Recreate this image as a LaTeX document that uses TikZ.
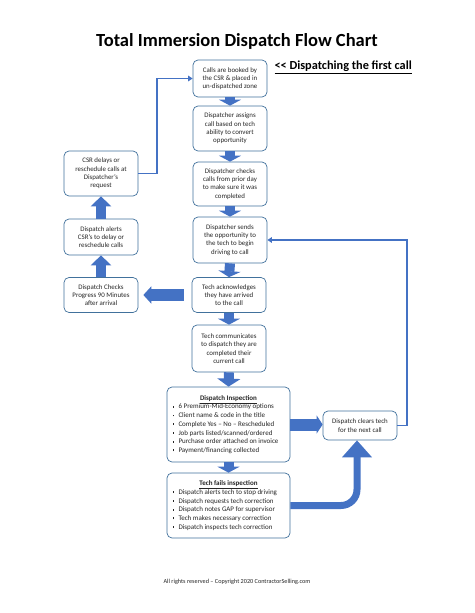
\documentclass[tikz,border=0pt]{standalone}
\usepackage{fontspec}
\setmainfont{Carlito}
\usetikzlibrary{arrows.meta,positioning}
\definecolor{boxblue}{RGB}{65,113,156}
\definecolor{arrowblue}{RGB}{68,114,196}
\definecolor{textgray}{RGB}{38,38,38}
\newcommand\sqbullet{\raisebox{0.35ex}{\rule{1.8pt}{1.8pt}}\hspace{4.2pt}}

\begin{document}
\begin{tikzpicture}[x=1pt, y=-1pt,
    box/.style={draw=boxblue, line width=0.7pt, rounded corners=5pt, fill=white, align=center, inner sep=0pt, minimum width=74pt, text=textgray, font=\fontsize{6.9}{8.3}\selectfont},
    listbox/.style={box, align=flush left, text width=112pt, minimum width=123pt, inner xsep=5.5pt, font=\fontsize{7}{8.7}\selectfont},
    downblock/.style={draw=arrowblue, line width=10pt, -{Triangle[width=22pt,length=6pt]}},
    upblock/.style={draw=arrowblue, line width=10pt, -{Triangle[width=20pt,length=10pt]}},
    sideblock/.style={draw=arrowblue, line width=12.5pt, -{Triangle[width=17pt,length=8pt]}},
    linkline/.style={draw=arrowblue, line width=1.8pt, -{Triangle[width=5.5pt,length=4.5pt]}},
    bigcurve/.style={draw=arrowblue, line width=7pt, rounded corners=16pt, -{Triangle[width=29pt,length=17pt]}}]
    \useasboundingbox (0,0) rectangle (474,613);
    \node [font=\fontsize{18.5}{20}\selectfont\bfseries] (title) at (237,41) {Total Immersion Dispatch Flow Chart};
    \node [font=\fontsize{12.3}{14}\selectfont\bfseries, anchor=west] (first) at (271,67) {\underline{{<}{<} Dispatching the first call}};
    \node [box, minimum height=37pt] (b1) at (230,78.5) {Calls are booked by\\the CSR \& placed in\\un-dispatched zone};
    \node [box, minimum height=45pt] (b2) at (230,128.5) {Dispatcher assigns\\call based on tech\\ability to convert\\opportunity};
    \node [box, minimum height=44pt] (b3) at (230,184) {Dispatcher checks\\calls from prior day\\to make sure it was\\completed};
    \node [box, minimum height=46pt] (b4) at (230,240) {Dispatcher sends\\the opportunity to\\the tech to begin\\driving to call};
    \node [box, minimum height=35pt] (b5) at (229,295) {Tech acknowledges\\they have arrived\\to the call};
    \node [box, minimum height=47pt] (b6) at (229,348.5) {Tech communicates\\to dispatch they are\\completed their\\current call};
    \node [listbox, minimum height=75pt] (b7) at (228.5,424.5) {\makebox[112pt]{\bfseries\underline{Dispatch Inspection}}\\
        \sqbullet 6 Premium-Mid-Economy options\\
        \sqbullet Client name \& code in the title\\
        \sqbullet Complete Yes -- No -- Rescheduled\\
        \sqbullet Job parts listed/scanned/ordered\\
        \sqbullet Purchase order attached on invoice\\
        \sqbullet Payment/financing collected};
    \node [box, minimum height=29pt] (b8) at (360,425.5) {Dispatch clears tech\\for the next call};
    \node [listbox, minimum height=65pt] (b9) at (228.5,505.5) {\makebox[112pt]{\bfseries\underline{Tech fails inspection}}\\
        \sqbullet Dispatch alerts tech to stop driving\\
        \sqbullet Dispatch requests tech correction\\
        \sqbullet Dispatch notes GAP for supervisor\\
        \sqbullet Tech makes necessary correction\\
        \sqbullet Dispatch inspects tech correction};
    \node [box, minimum height=45pt] (csr) at (101,173.5) {CSR delays or\\reschedule calls at\\Dispatcher's\\request};
    \node [box, minimum height=36pt] (alerts) at (101,237) {Dispatch alerts\\CSR's to delay or\\reschedule calls};
    \node [box, minimum height=35pt] (checks) at (101,295) {Dispatch Checks\\Progress 90 Minutes\\after arrival};
    \node [font=\fontsize{6.2}{7}\selectfont, text=textgray] (copy) at (237,582) {All rights reserved -- Copyright 2020 ContractorSelling.com};
    \draw [downblock] (b1.south) -- (b2.north);
    \draw [downblock] (b2.south) -- (b3.north);
    \draw [downblock] (b3.south) -- (b4.north);
    \draw [downblock] (b4.south) -- (b5.north);
    \draw [downblock] (b5.south) -- (b6.north);
    \draw [downblock, -{Triangle[width=23pt,length=8pt]}] (b6.south) -- (b7.north);
    \draw [downblock] (b7.south) -- (b9.north);
    \draw [upblock] (alerts.north) -- (csr.south);
    \draw [upblock] (checks.north) -- (alerts.south);
    \draw [sideblock] ([xshift=-8pt]b5.west) -- ([xshift=5pt]checks.east);
    \draw [sideblock, line width=12pt, -{Triangle[width=18pt,length=6pt]}] (b7.east) -- (b7.east -| b8.west);
    \draw [linkline] (csr.east) -- ++(19,0) |- (b1.west);
    \draw [linkline] (b8.east) -- ++(10,0) |- (b4.east);
    \draw [bigcurve] (b9.east) -| ([xshift=-3pt]b8.south);
\end{tikzpicture}
\end{document}
